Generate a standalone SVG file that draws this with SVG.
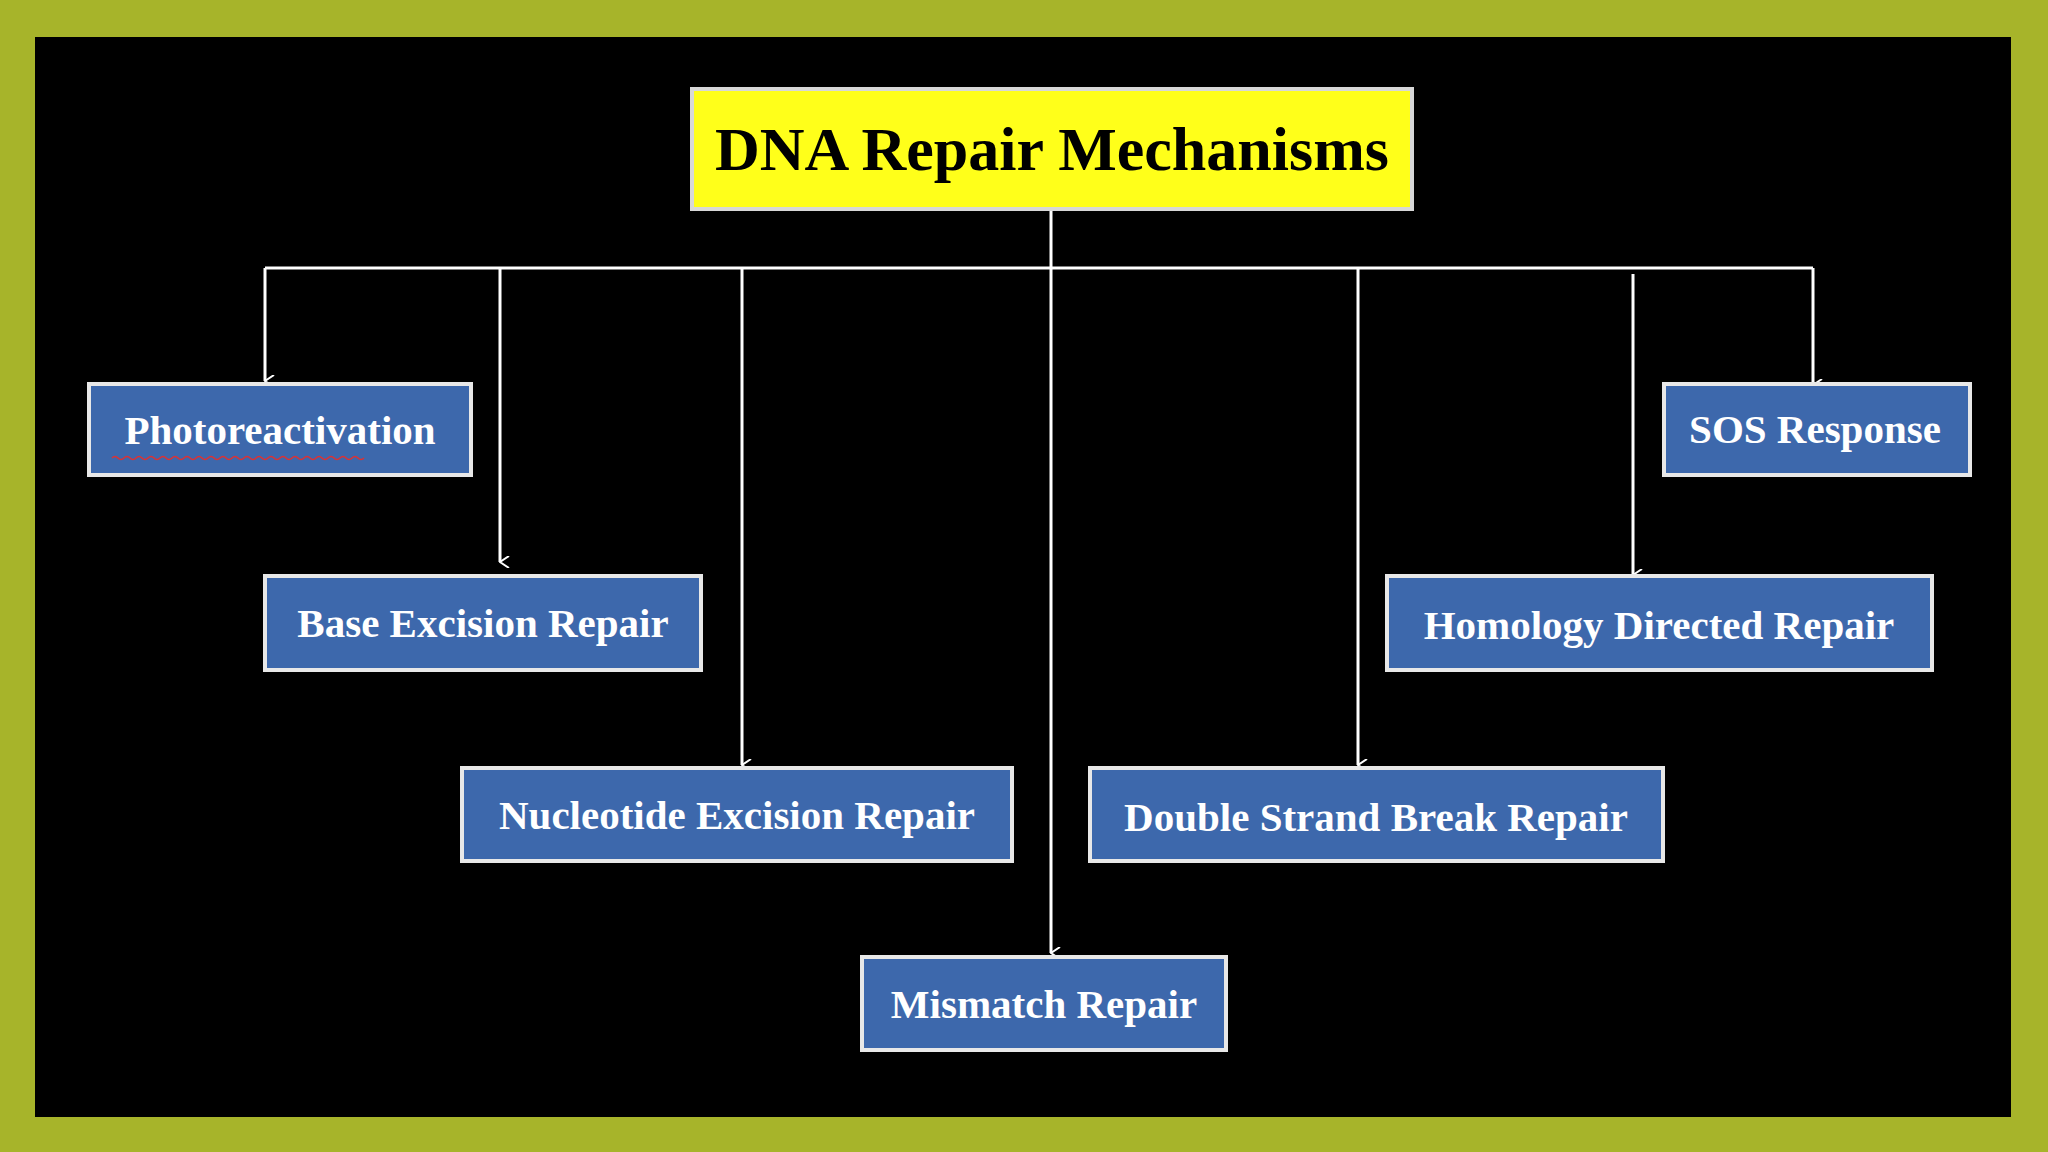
<svg xmlns="http://www.w3.org/2000/svg" width="2048" height="1152" viewBox="0 0 2048 1152">
<defs>
<style>
.box{fill:#3D68AC;stroke:#E8E8E8;stroke-width:4}
.inner{fill:none;stroke:#1F3F78;stroke-width:2}
.lbl{font-family:"Liberation Serif",serif;font-weight:bold;font-size:41px;fill:#fff;text-anchor:middle;dominant-baseline:central}
.ln{stroke:#fff;stroke-width:3;fill:none}
</style>
<marker id="ah" viewBox="0 0 12 12" refX="6" refY="11" markerWidth="12" markerHeight="12" markerUnits="userSpaceOnUse" orient="auto-start-reverse">
<path d="M0,2 L6,11 L12,2" fill="none" stroke="#fff" stroke-width="2"/>
</marker>
</defs>
<rect width="2048" height="1152" fill="#A7B42A"/>
<rect x="35" y="37" width="1976" height="1080" fill="#000"/>
<g id="connectors">
<line class="ln" x1="1051" y1="209" x2="1051" y2="953" marker-end="url(#ah)"/>
<line class="ln" x1="265" y1="268" x2="1813" y2="268"/>
<line class="ln" x1="265" y1="268" x2="265" y2="381" marker-end="url(#ah)"/>
<line class="ln" x1="500" y1="268" x2="500" y2="562" marker-end="url(#ah)"/>
<line class="ln" x1="742" y1="268" x2="742" y2="765" marker-end="url(#ah)"/>
<line class="ln" x1="1358" y1="268" x2="1358" y2="765" marker-end="url(#ah)"/>
<line class="ln" x1="1633" y1="274" x2="1633" y2="575" marker-end="url(#ah)"/>
<line class="ln" x1="1813" y1="268" x2="1813" y2="385" marker-end="url(#ah)"/>
</g>
<g id="title">
<rect x="692" y="89" width="720" height="120" fill="#FFFF1A" stroke="#D8D8D8" stroke-width="4"/>
<text x="1052" y="149" font-family="Liberation Serif,serif" font-weight="bold" font-size="62" text-anchor="middle" dominant-baseline="central" fill="#000">DNA Repair Mechanisms</text>
</g>
<g id="photo">
<rect class="box" x="89" y="384" width="382" height="91"/>
<text class="lbl" x="280" y="430">Photoreactivation</text>
<path d="M112,458 q3,-3 6,0 t6,0 t6,0 t6,0 t6,0 t6,0 t6,0 t6,0 t6,0 t6,0 t6,0 t6,0 t6,0 t6,0 t6,0 t6,0 t6,0 t6,0 t6,0 t6,0 t6,0 t6,0 t6,0 t6,0 t6,0 t6,0 t6,0 t6,0 t6,0 t6,0 t6,0 t6,0 t6,0 t6,0 t6,0 t6,0 t6,0 t6,0 t6,0 t6,0 t6,0 t6,0" fill="none" stroke="#E03030" stroke-width="1.5"/>
</g>
<g id="ber">
<rect class="box" x="265" y="576" width="436" height="94"/>
<text class="lbl" x="483" y="623">Base Excision Repair</text>
</g>
<g id="ner">
<rect class="box" x="462" y="768" width="550" height="93"/>
<text class="lbl" x="737" y="815">Nucleotide Excision Repair</text>
</g>
<g id="mmr">
<rect class="box" x="862" y="957" width="364" height="93"/>
<text class="lbl" x="1044" y="1004">Mismatch Repair</text>
</g>
<g id="dsb">
<rect class="box" x="1090" y="768" width="573" height="93"/>
<text class="lbl" x="1376" y="817">Double Strand Break Repair</text>
</g>
<g id="hdr">
<rect class="box" x="1387" y="576" width="545" height="94"/>
<text class="lbl" x="1659" y="625">Homology Directed Repair</text>
</g>
<g id="sos">
<rect class="box" x="1664" y="384" width="306" height="91"/>
<text class="lbl" x="1815" y="429">SOS Response</text>
</g>
</svg>
